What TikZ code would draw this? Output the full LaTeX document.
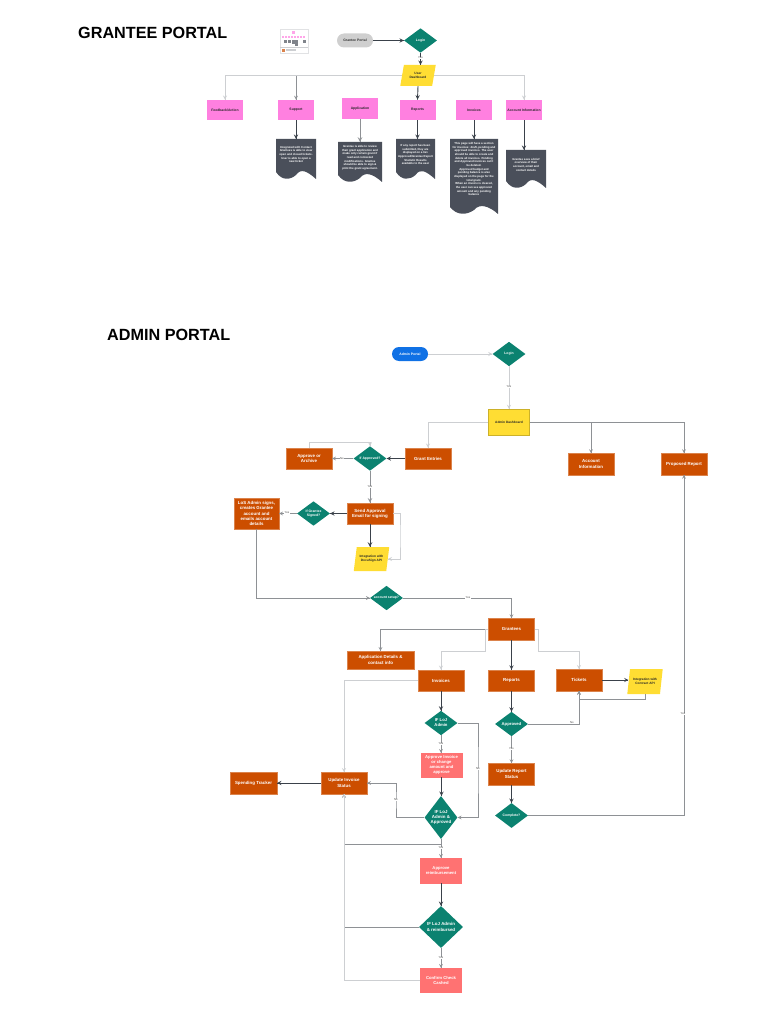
\documentclass[tikz,border=0pt]{standalone}
\usepackage{fontspec}
\setmainfont{Liberation Sans}
\usepackage{tikz}
\usetikzlibrary{calc}
\usetikzlibrary{arrows,decorations.markings,shapes.geometric}

\definecolor{greendec}{HTML}{0B8270}
\definecolor{orangebox}{HTML}{CC4E00}
\definecolor{salmonbox}{HTML}{FF7272}
\definecolor{pinkbox}{HTML}{FF80E0}
\definecolor{yellowbox}{HTML}{FFDD33}
\definecolor{slatedoc}{HTML}{4A4F5A}
\definecolor{bluepill}{HTML}{1071E5}
\definecolor{greypill}{HTML}{CFCFCF}
\definecolor{darkline}{HTML}{3A414A}
\definecolor{midline}{HTML}{8E9195}
\definecolor{lightline}{HTML}{CDCFD2}

\newcommand{\doctext}[4]{\parbox[c][#1pt][t]{#2pt}{\centering\vspace*{#3pt}#4}}

\tikzset{
	headarrow/.style={decoration={markings,mark=at position 1 with {\arrow[scale=1,>=stealth]{>}}},postaction={decorate}},
	darkflow/.style={draw=darkline, line width=0.9pt, headarrow},
	midflow/.style={draw=midline, line width=0.7pt, headarrow},
	lightflow/.style={draw=lightline, line width=0.8pt, headarrow},
	orangenode/.style={rectangle, fill=orangebox, draw=orangebox!70!white, line width=0.3pt, minimum width=46pt, minimum height=21.5pt, inner sep=0pt, align=center, text=white, font=\fontsize{4.4}{5.2}\selectfont\bfseries},
	salmonnode/.style={orangenode, fill=salmonbox, draw=salmonbox, minimum width=41pt, minimum height=24.5pt, font=\fontsize{4.2}{5}\selectfont\bfseries},
	pinknode/.style={rectangle, fill=pinkbox, minimum width=36pt, minimum height=20.5pt, inner sep=0pt, align=center, text=black!85, font=\fontsize{3.4}{4.2}\selectfont\bfseries},
	greennode/.style={diamond, fill=greendec, aspect=1.35, minimum width=33pt, minimum height=24.5pt, inner sep=0pt, align=center, text=white, font=\fontsize{3.4}{4.4}\selectfont\bfseries},
	greentall/.style={greennode, aspect=0.8, minimum width=33pt, minimum height=43pt, font=\fontsize{4.4}{5.2}\selectfont\bfseries},
	yellownode/.style={trapezium, trapezium left angle=71, trapezium right angle=109, trapezium stretches=true, fill=yellowbox, minimum width=35.5pt, minimum height=24pt, inner sep=0pt, align=center, text=black!85, font=\fontsize{3.2}{4}\selectfont\bfseries},
	pillnode/.style={rectangle, rounded corners=7pt, minimum width=36pt, minimum height=14pt, inner sep=0pt, font=\fontsize{3.4}{4}\selectfont\bfseries},
	docnode/.style={rectangle, inner sep=0pt, text=white, font=\fontsize{2.85}{3.65}\selectfont\bfseries, path picture={
		\coordinate (nw) at (path picture bounding box.north west);
		\coordinate (ne) at (path picture bounding box.north east);
		\coordinate (sw) at (path picture bounding box.south west);
		\coordinate (se) at (path picture bounding box.south east);
		\fill[slatedoc] (nw) -- (ne) -- (se) .. controls ($(se)+(-9,-8)$) and ($(sw)!0.62!(se)+(0,-11)$) .. ($(sw)!0.5!(se)+(0,-4)$) .. controls ($(sw)!0.35!(se)+(0,1)$) and ($(sw)!0.15!(se)+(0,2)$) .. ($(sw)+(0,-7)$) -- cycle;
	}},
	flowlabel/.style={fill=white, inner sep=0.3pt, text=black!70, font=\fontsize{2.8}{3}\selectfont},
	titlenode/.style={anchor=west, inner sep=0pt, font=\fontsize{16.2}{18}\selectfont\bfseries}
}

\begin{document}
\begin{tikzpicture}[x=1pt, y=-1pt]
	\useasboundingbox (0,0) rectangle (768,1024);

	%grantee portal
	\node[titlenode] (granteetitle) at (78,33) {GRANTEE PORTAL};

	%small thumbnail
	\draw[lightline!60!white, fill=white, line width=0.5pt] (280,29) rectangle (308,53);
	\draw[lightline, line width=0.4pt] (280,47.5) -- (308,47.5);
	\foreach \px in {283,286,289,292,295,298,301,304} {
		\fill[pinkbox!70!white] (\px-1,36.5) rectangle (\px+1,38.5);
	}
	\fill[pinkbox!70!white] (292,31.5) rectangle (295,34);
	\foreach \px/\pb in {285/43,289/43,293/44,296/46.5,304/43} {
		\fill[slatedoc!70!white] (\px-1.5,40) rectangle (\px+1.5,\pb);
	}
	\fill[orangebox!70!white] (282,49) rectangle (285,52);
	\fill[lightline] (286,49.5) rectangle (296,51.5);

	\node[pillnode, fill=greypill, text=black!80] (gportal) at (355,40.5) {Grantee Portal};
	\node[greennode] (glogin) at (420.5,40.5) {Login};
	\node[yellownode, minimum height=21pt] (gdash) at (418,75.5) {User\\Dashboard};

	\node[pinknode] (gfeedback) at (225,110) {Feedback/Action};
	\node[pinknode] (gsupport) at (296,110) {Support};
	\node[pinknode] (gapplication) at (360,108.5) {Application};
	\node[pinknode] (greports) at (417.5,110) {Reports};
	\node[pinknode] (ginvoices) at (474,110) {Invoices};
	\node[pinknode] (gaccount) at (524,110) {Account Information};

	\node[docnode] (dsupport) at (296,159) {\doctext{40}{40}{7}{Integrated with Contact\\Grantees is able to view\\open and closed tickets.\\User is able to open a\\new ticket}};
	\node[docnode] (dapplication) at (360,162) {\doctext{40}{44}{3.5}{Grantee is able to review\\their grant application and\\make only certain grant if\\read and contested\\modifications. Grantee\\should be able to sign \&\\print the grant agreement.}};
	\node[docnode] (dreports) at (415.5,159) {\doctext{40}{39}{5.5}{If any report has been\\submitted, they are\\displayed on a list.\\Approved/Grantee Report\\Statistic Results\\available to the user}};
	\node[docnode] (dinvoices) at (474,176.5) {\doctext{75}{48}{3.5}{This page will have a section\\for invoices: draft, pending and\\approved invoices. The user\\should be able to create and\\delete all invoices. Pending\\and Approved invoices can't\\be deleted.\\Approved budget and\\pending balance is also\\displayed on the page for the\\total grant.\\When an invoice is cleared,\\the user can see approved\\amount and any pending\\balance}};
	\node[docnode] (daccount) at (526,169) {\doctext{38}{40}{8}{Grantee sees a brief\\overview of their\\account, email and\\contact details}};

	\draw[darkflow] (gportal.east) -- (glogin.west);
	\draw[darkflow] (glogin.south) -- (glogin.south |- gdash.north);
	\draw[midflow] (gdash.west) -| (gsupport.north);
	\draw[lightflow] (gdash.west) -| (gfeedback.north);
	\draw[darkflow] (gdash.south) -- (greports.north);
	\draw[lightflow] (gdash.east) -| (gaccount.north);

	\draw[darkflow] (gsupport.south) -- (dsupport.north);
	\draw[midflow, line width=1pt] (gapplication.south) -- (dapplication.north);
	\draw[darkflow] (greports.south) -- (greports.south |- dreports.north);
	\draw[darkflow] (ginvoices.south) -- (dinvoices.north);
	\draw[darkflow] (gaccount.south) -- (gaccount.south |- daccount.north);

	%admin portal
	\node[titlenode] (admintitle) at (107,335) {ADMIN PORTAL};

	\node[pillnode, fill=bluepill, text=white] (aportal) at (410,354) {Admin Portal};
	\node[greennode] (alogin) at (509,354) {Login};
	\node[rectangle, fill=yellowbox, draw=yellowbox!80!black, line width=0.3pt, minimum width=41pt, minimum height=26pt, inner sep=0pt, text=black!85, font=\fontsize{3.2}{4}\selectfont\bfseries] (adash) at (509,422) {Admin Dashboard};

	\node[orangenode] (entries) at (428,458.5) {Grant Entries};
	\node[greennode] (ifapproved) at (370,458.5) {If Approved?};
	\node[orangenode] (archive) at (309,458.5) {Approve or\\Archive};
	\node[orangenode] (accountinfo) at (591,464) {Account\\Information};
	\node[orangenode] (proposed) at (684,464) {Proposed Report};

	\node[orangenode] (sendmail) at (370,513.5) {Send Approval\\Email for signing};
	\node[greennode] (ifsigned) at (313.5,513.5) {If Grantee\\Signed?};
	\node[orangenode, minimum width=45pt, minimum height=31pt] (losadmin) at (256.5,513.5) {LoS Admin signs,\\creates Grantee\\account and\\emails account\\details};
	\node[yellownode, minimum height=24pt] (docusign) at (371.5,559) {Integration with\\DocuSign API};
	\node[greennode] (setup) at (386.5,598) {account setup?};

	\node[orangenode] (grantees) at (511.5,629) {Grantees};
	\node[orangenode, minimum width=67pt, minimum height=18pt] (appdetails) at (380.5,660) {Application Details \&\\contact info};
	\node[orangenode] (invoices) at (441,680.5) {Invoices};
	\node[orangenode] (reports) at (511.5,680.5) {Reports};
	\node[orangenode] (tickets) at (579,680) {Tickets};
	\node[yellownode, minimum height=25pt] (contractapi) at (645,681.5) {Integration with\\Contract API};

	\node[greennode, font=\fontsize{4.2}{5}\selectfont\bfseries] (ifadmin) at (441,723) {IF LoJ\\Admin};
	\node[greennode, font=\fontsize{4.2}{5}\selectfont\bfseries] (approved) at (511.5,724) {Approved};
	\node[salmonnode, minimum height=24pt] (approveinv) at (441.5,765) {Approve Invoice\\or change\\amount and\\approve};
	\node[orangenode] (updatereport) at (511.5,774) {Update Report\\Status};
	\node[greennode, minimum height=25pt] (complete) at (511.5,815.5) {Complete?};
	\node[greentall] (ifadminok) at (441,817.5) {IF LoJ\\Admin \&\\Approved};

	\node[orangenode] (updateinv) at (344,783) {Update Invoice\\Status};
	\node[orangenode, minimum width=47pt] (spending) at (253.5,783) {Spending Tracker};
	\node[salmonnode, minimum height=25pt] (reimburse) at (441,870.5) {Approve\\reimbursement};
	\node[greentall, minimum width=44pt, minimum height=42pt, aspect=1.05] (ifreimbursed) at (441,927) {IF LoJ Admin\\\& reimbursed};
	\node[salmonnode, minimum height=24pt] (cashed) at (441,980) {Confirm Check\\Cashed};

	\coordinate (archivetop) at (309,442);
	\coordinate (sendloop) at (400,536);
	\coordinate (invoicebend) at (485,651);
	\coordinate (ticketbend) at (538,651);
	\coordinate (apiloop) at (645,699);
	\coordinate (adminloop) at (478,770);
	\coordinate (approvedbend) at (396,800);
	\coordinate (reimburseleft) at (441,844);

	\draw[lightflow] (aportal.east) -- (alogin.west);
	\draw[lightflow] (alogin.south) -- (adash.north);
	\draw[midflow] (adash.east) -| (accountinfo.north);
	\draw[midflow] (adash.east) -| (proposed.north);
	\draw[lightflow] (adash.west) -| (entries.north);

	\draw[darkflow] (entries.west) -- (ifapproved.east);
	\draw[midflow] (ifapproved.west) -- (archive.east);
	\draw[lightline, line width=0.8pt] (archive.north) -- (archivetop);
	\draw[lightflow] (archivetop) -| (ifapproved.north);
	\draw[midflow, line width=1pt] (ifapproved.south) -- (sendmail.north);
	\draw[darkflow] (sendmail.west) -- (ifsigned.east);
	\draw[midflow] (ifsigned.west) -- (losadmin.east);
	\draw[darkflow, line width=1pt] (sendmail.south) -- (sendmail.south |- docusign.north);
	\draw[lightflow] (sendmail.east) -| (sendloop) |- (docusign.east);
	\draw[midflow] (losadmin.south) |- (setup.west);
	\draw[midflow] (setup.east) -| (grantees.north);

	\draw[midflow] (grantees.west) -| (appdetails.north);
	\draw[lightflow] (grantees.west) -| (invoicebend) -| (invoices.north);
	\draw[lightflow] (grantees.east) -| (ticketbend) -| (tickets.north);
	\draw[darkflow] (grantees.south) -- (reports.north);
	\draw[darkflow] (reports.south) -- (approved.north);
	\draw[midflow] (approved.east) -| (tickets.south);
	\draw[darkflow] (tickets.east) -- (tickets.east -| contractapi.west);
	\draw[midflow] (contractapi.south) |- (apiloop -| tickets.south) -- (tickets.south);
	\draw[midflow] (approved.south) -- (updatereport.north);
	\draw[darkflow] (updatereport.south) -- (complete.north);
	\draw[midflow] (complete.east) -| (proposed.south);

	\draw[lightflow] (invoices.west) -| (updateinv.north);
	\draw[darkflow] (invoices.south) -- (ifadmin.north);
	\draw[midflow] (ifadmin.south) -- (ifadmin.south |- approveinv.north);
	\draw[midflow] (ifadmin.east) -| (adminloop) |- (ifadminok.east);
	\draw[darkflow] (approveinv.south) -- (approveinv.south |- ifadminok.north);
	\draw[midflow] (ifadminok.west) -| (approvedbend) |- (updateinv.east);
	\draw[darkflow] (updateinv.west) -- (spending.east);
	\draw[midflow] (ifadminok.south) -- (reimburse.north);
	\draw[midflow] (reimburseleft) -| (updateinv.south);
	\draw[darkflow] (reimburse.south) -- (ifreimbursed.north);
	\draw[midflow] (ifreimbursed.west) -| (updateinv.south);
	\draw[midflow] (ifreimbursed.south) -- (cashed.north);
	\draw[lightflow] (cashed.west) -| (updateinv.south);

	%labels on the connectors
	\node[flowlabel] (lyes1) at (420.5,58) {Yes};
	\node[flowlabel] (lyes2) at (509,387) {Yes};
	\node[flowlabel] (lno1) at (342,459) {No};
	\node[flowlabel] (lyes3) at (370,487) {Yes};
	\node[flowlabel] (lyes4) at (287,513) {Yes};
	\node[flowlabel] (lyes5) at (468,598) {Yes};
	\node[flowlabel] (lno2) at (572,723) {No};
	\node[flowlabel] (lyes6) at (511.5,749) {Yes};
	\node[flowlabel] (lyes7) at (683,714) {Yes};
	\node[flowlabel] (lyes8) at (441,744) {Yes};
	\node[flowlabel] (lno3) at (478,769) {No};
	\node[flowlabel] (lno4) at (396,800) {No};
	\node[flowlabel] (lyes9) at (441,848) {Yes};
	\node[flowlabel] (lyes10) at (441,958) {Yes};
\end{tikzpicture}
\end{document}
